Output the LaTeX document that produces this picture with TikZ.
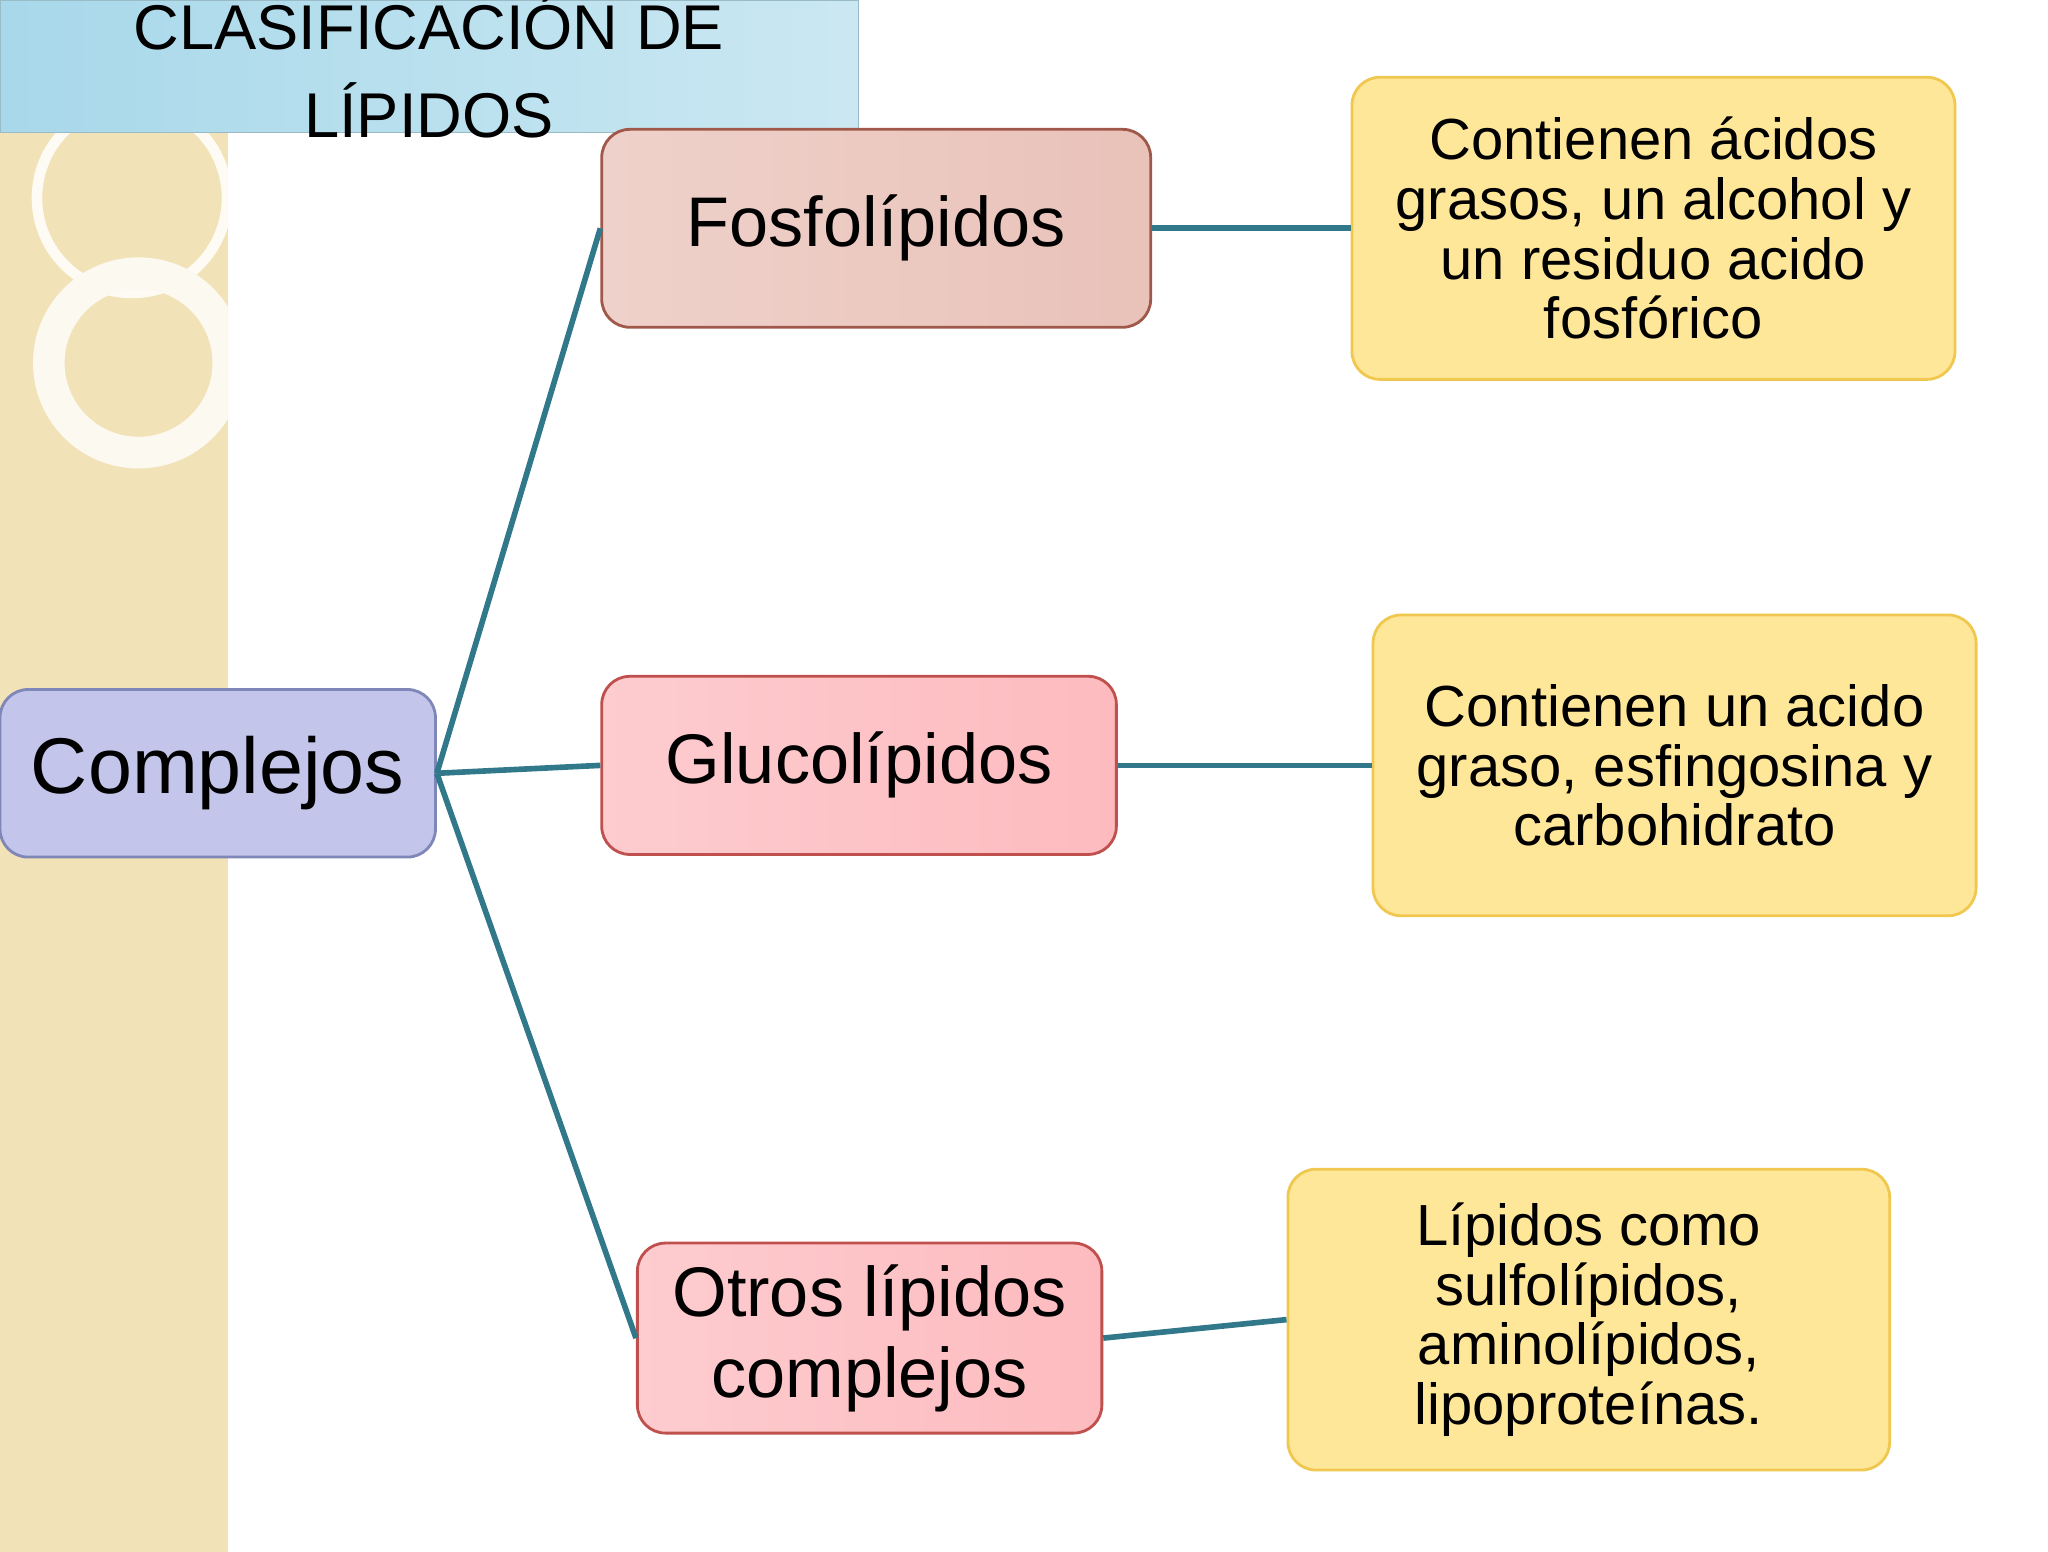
\documentclass[tikz,border=0pt]{standalone}
\usepackage{fontspec}
\setmainfont{Liberation Sans}
\usetikzlibrary{positioning}
\newlength\pxu
\setlength\pxu{0.013196cm}
\definecolor{strip}{HTML}{F2E2B8}
\definecolor{teal}{HTML}{31788A}
\definecolor{lav}{HTML}{C3C6EA}
\definecolor{lavline}{HTML}{7F86B8}
\definecolor{fos}{HTML}{E9C2B9}
\definecolor{fosline}{HTML}{A0584A}
\definecolor{glu}{HTML}{FDBBBF}
\definecolor{gluline}{HTML}{C0504D}
\definecolor{yel}{HTML}{FFE79A}
\definecolor{yelline}{HTML}{F0C850}
\definecolor{ttl}{HTML}{A8D8EA}
\begin{document}
\begin{tikzpicture}[x=0.013196cm, y=-0.013196cm,
		box/.style={draw, rounded corners=8pt, line width=0.8pt, align=center,
			inner sep=0pt, font=\fontsize{20}{23}\selectfont},
		cat/.style={box, left color=#1!75, right color=#1, draw=#1line},
		note/.style={box, fill=yel, draw=yelline, font=\fontsize{16.5}{17}\selectfont},
		link/.style={teal, line width=1.6pt}
	]
	\useasboundingbox (0,0) rectangle (1552,1176);
	\fill[white] (0,0) rectangle (1552,1176);
	
	% background strip and rings
	\fill[strip] (0,0) rectangle (173,1176);
	\begin{scope}
		\clip (0,0) rectangle (173,1176);
		\draw[white!85!strip, line width=3pt] (100,150) circle (72);
		\draw[white!80!strip, line width=9pt] (105,275) circle (68);
	\end{scope}
	
	% title
	\node[draw=teal!50, left color=ttl, right color=ttl!60, minimum width=650\pxu,
		minimum height=100\pxu, anchor=north west, inner sep=0pt] (title) at (0,0) {};
	\node[align=center, font=\fontsize{18}{25}\selectfont] at (325,50) {CLASIFICACIÓN DE\\LÍPIDOS};
	
	% boxes
	\node[box, fill=lav, draw=lavline, font=\fontsize{22.5}{26}\selectfont,
		minimum width=330\pxu, minimum height=127\pxu] (comp) at (165,586) {Complejos};
	\node[cat=fos, minimum width=416\pxu, minimum height=150\pxu] (fosf) at (664,173) {Fosfolípidos};
	\node[cat=glu, minimum width=390\pxu, minimum height=135\pxu] (gluc) at (651,580) {Glucolípidos};
	\node[cat=glu, minimum width=352\pxu, minimum height=144\pxu] (otro) at (659,1014) {Otros lípidos\\complejos};
	
	\node[note, minimum width=457\pxu, minimum height=229\pxu] (dfos) at (1253,173)
		{Contienen ácidos\\grasos, un alcohol y\\un residuo acido\\fosfórico};
	\node[note, minimum width=457\pxu, minimum height=228\pxu] (dglu) at (1269,580)
		{Contienen un acido\\graso, esfingosina y\\carbohidrato};
	\node[note, minimum width=456\pxu, minimum height=228\pxu] (dotr) at (1204,1000)
		{Lípidos como\\sulfolípidos,\\aminolípidos,\\lipoproteínas.};
	
	% links
	\draw[link] (comp.east) -- (fosf.west);
	\draw[link] (comp.east) -- (gluc.west);
	\draw[link] (comp.east) -- (otro.west);
	\draw[link] (fosf.east) -- (dfos.west);
	\draw[link] (gluc.east) -- (dglu.west);
	\draw[link] (otro.east) -- (dotr.west);
\end{tikzpicture}
\end{document}
